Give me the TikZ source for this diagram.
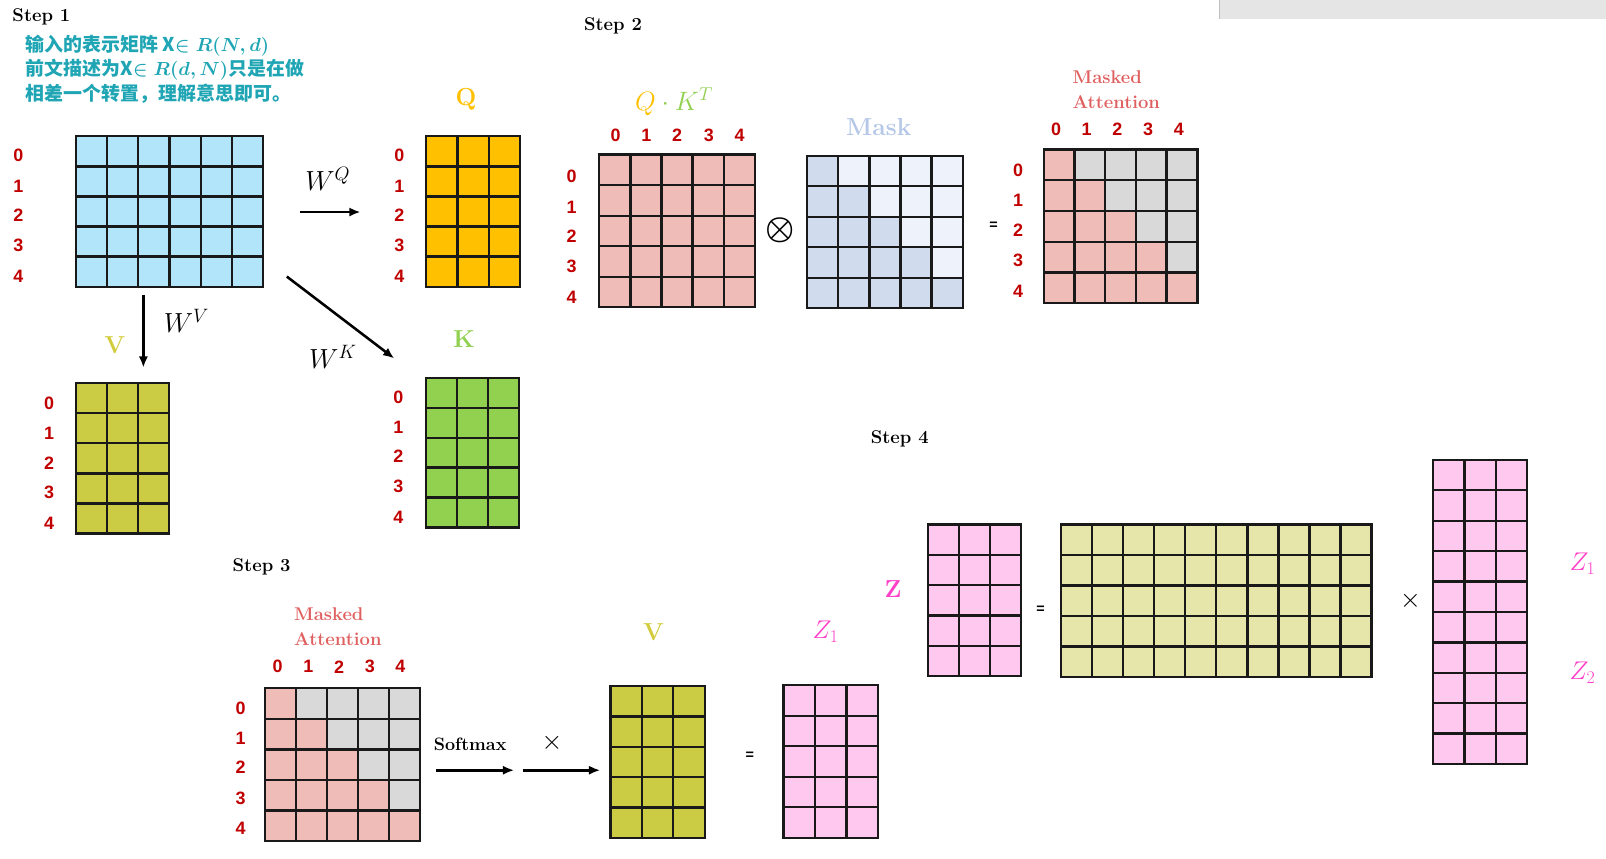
\RequirePackage{fix-cm}
\documentclass[tikz,border=0pt]{standalone}
\usepackage{amsmath,bm}
\usepackage{fontspec}
\newfontfamily\cjk{Noto Sans CJK SC}
\newfontfamily\lsans{Liberation Sans}
\usetikzlibrary{arrows.meta}
\definecolor{idxred}{RGB}{192,0,0}
\definecolor{cnteal}{RGB}{31,165,180}
\definecolor{xblue}{RGB}{179,229,250}
\definecolor{qorange}{RGB}{255,192,0}
\definecolor{kgreen}{RGB}{146,208,80}
\definecolor{volive}{RGB}{204,204,68}
\definecolor{vlab}{RGB}{210,204,60}
\definecolor{qkpink}{RGB}{240,188,184}
\definecolor{maskdark}{RGB}{208,220,238}
\definecolor{masklight}{RGB}{238,242,250}
\definecolor{maskedlab}{RGB}{224,96,96}
\definecolor{masklab}{RGB}{180,199,231}
\definecolor{cellgrey}{RGB}{217,217,217}
\definecolor{zpink}{RGB}{255,200,238}
\definecolor{zlab}{RGB}{255,64,200}
\definecolor{yel}{RGB}{230,230,170}
\definecolor{barGrey}{RGB}{229,229,229}
\definecolor{gridk}{RGB}{25,25,25}
\newcommand\gridlines[6]{%
  \pgfmathsetmacro\gdx{(#3-#1)/#5}%
  \pgfmathsetmacro\gdy{(#4-#2)/#6}%
  \pgfmathtruncatemacro\gcm{#5-1}%
  \pgfmathtruncatemacro\grm{#6-1}%
  \foreach \ii in {1,...,\gcm}{\draw[gl] ({#1+\ii*\gdx},#2) -- ({#1+\ii*\gdx},#4);}%
  \foreach \ii in {1,...,\grm}{\draw[gl] (#1,{#2+\ii*\gdy}) -- (#3,{#2+\ii*\gdy});}%
  \draw[gl] (#1,#2) rectangle (#3,#4);%
}
\newcommand\gridmat[7]{\fill[#7] (#1,#2) rectangle (#3,#4); \gridlines{#1}{#2}{#3}{#4}{#5}{#6}}
\newcommand\trimat[6]{%
  \pgfmathsetmacro\tdx{(#3-#1)/5}%
  \pgfmathsetmacro\tdy{(#4-#2)/5}%
  \foreach \rr in {0,...,4}{\foreach \cc in {0,...,4}{%
     \ifnum\cc>\rr\relax\def\tcol{#6}\else\def\tcol{#5}\fi
     \fill[\tcol] ({#1+\cc*\tdx},{#2+\rr*\tdy}) rectangle ++(\tdx,\tdy);}}%
  \gridlines{#1}{#2}{#3}{#4}{5}{5}}
\newcommand\rowlabels[3]{\foreach \yy [count=\k from 0] in {#3} \node[idx] (#1\k) at (#2,\yy) {\k};}
\newcommand\collabels[3]{\foreach \xx [count=\k from 0] in {#3} \node[idx] (#1\k) at (\xx,#2) {\k};}
\begin{document}
\begin{tikzpicture}[x=1pt,y=-1pt,
  gl/.style={line width=2.3pt, draw=gridk},
  idx/.style={font=\lsans\bfseries\fontsize{17.5}{19}\selectfont, text=idxred, inner sep=0pt},
  steplab/.style={font=\bfseries\fontsize{18}{20}\selectfont, anchor=west, inner sep=0pt},
  cn/.style={font=\cjk\bfseries\fontsize{18.5}{22}\selectfont, text=cnteal, anchor=west, inner sep=0pt},
  ttl/.style={font=\bfseries\fontsize{24}{26}\selectfont, inner sep=0pt},
  matt/.style={font=\bfseries\fontsize{18}{20}\selectfont, text=maskedlab, anchor=west, inner sep=0pt},
  wlab/.style={font=\fontsize{27}{30}\selectfont, inner sep=0pt},
  zl/.style={font=\fontsize{25}{28}\selectfont, text=zlab, inner sep=0pt},
  eq/.style={font=\lsans\bfseries\fontsize{14}{16}\selectfont, inner sep=0pt},
  op/.style={font=\fontsize{26}{28}\selectfont, inner sep=0pt},
  arr/.style={-{Latex[length=11pt,width=9pt]}, line width=2.5pt}]
\useasboundingbox (0,0) rectangle (1568,838);
% top right bar
\fill[barGrey] (1191,0) rectangle (1568,19);
\draw[line width=1pt, black!25] (1191,0) -- (1191,19);

% ---------- Step 1 ----------
\node[steplab] (s1) at (12,16) {Step 1};
\node[cn] (cn1) at (25,45) {输入的表示矩阵 \textbf{X}{\boldmath$\in R(N,d)$}};
\node[cn] (cn2) at (25,68) {前文描述为\textbf{X}{\boldmath$\in R(d,N)$}只是在做};
\node[cn] (cn3) at (25,92) {相差一个转置，理解意思即可。};

\gridmat{74}{133}{257}{280}{6}{5}{xblue}
\rowlabels{xr}{18}{152,182,210,240,270}

\node[ttl, text=qorange] (qlab) at (455,97) {Q};
\gridmat{416}{133}{508}{280}{3}{5}{qorange}
\rowlabels{qr}{390}{152,182,210,240,270}

\coordinate (wq1) at (293,207); \coordinate (wq2) at (352,207);
\draw[arr] (wq1) -- (wq2);
\node[wlab] (wq) at (320,175) {$W^Q$};

\coordinate (wk1) at (280,270); \coordinate (wk2) at (385,350);
\draw[arr] (wk1) -- (wk2);
\node[wlab] (wk) at (325,348) {$W^K$};

\coordinate (wv1) at (140,288); \coordinate (wv2) at (140,359);
\draw[arr] (wv1) -- (wv2);
\node[wlab] (wv) at (182,313) {$W^V$};

\node[ttl, text=vlab] (vlab1) at (112,337) {V};
\gridmat{74}{374}{165}{521}{3}{5}{volive}
\rowlabels{vr}{48}{394,423,452,481,511}

\node[ttl, text=kgreen] (klab) at (453,331) {K};
\gridmat{416}{369}{507}{515}{3}{5}{kgreen}
\rowlabels{kr}{389}{388,417,445,475,505}

% ---------- Step 2 ----------
\node[steplab] (s2) at (570,25) {Step 2};
\node[font=\fontsize{26}{30}\selectfont, inner sep=0pt] (qkt) at (658,99) {$\color{qorange}Q\color{kgreen}\cdot K^T$};
\collabels{qkc}{132}{601,631,661,692,722}
\gridmat{585}{151}{737}{300}{5}{5}{qkpink}
\rowlabels{qkr}{558}{172,202,231,260,290}

\node[font=\fontsize{32}{36}\selectfont, inner sep=0pt] (otim) at (762,225) {{\boldmath$\otimes$}};

\node[ttl, text=masklab] (masklab) at (858,124) {Mask};
\trimat{788}{152}{940}{301}{maskdark}{masklight}

\node[eq] (eq1) at (970,220) {=};

\node[matt] (ma1) at (1047,75) {Masked};
\node[matt] (ma2) at (1047,100) {Attention};
\collabels{mac}{126}{1031,1061,1091,1121,1151}
\trimat{1019}{146}{1169}{296}{qkpink}{cellgrey}
\rowlabels{mar}{994}{166,196,225,254,284}

% ---------- Step 3 ----------
\node[steplab] (s3) at (227,553) {Step 3};
\node[matt] (mb1) at (287,600) {Masked};
\node[matt] (mb2) at (287,624) {Attention};
\collabels{mbc}{651}{271,301,331,361,391}
\trimat{259}{672}{410}{821}{qkpink}{cellgrey}
\rowlabels{mbr}{235}{692,721,749,779,809}

\node[font=\bfseries\fontsize{17.5}{19}\selectfont, inner sep=0pt] (soft) at (459,727) {Softmax};
\coordinate (sa1) at (426,752); \coordinate (sa2) at (502,752);
\draw[arr] (sa1) -- (sa2);
\node[op] (tim1) at (539,725) {$\times$};
\coordinate (sb1) at (511,752); \coordinate (sb2) at (586,752);
\draw[arr] (sb1) -- (sb2);

\node[ttl, text=vlab] (vlab2) at (638,617) {V};
\gridmat{596}{670}{688}{818}{3}{5}{volive}
\node[eq] (eq2) at (732,738) {=};
\node[zl] (z1a) at (806,617) {$Z_1$};
\gridmat{765}{669}{857}{818}{3}{5}{zpink}

% ---------- Step 4 ----------
\node[steplab] (s4) at (850,428) {Step 4};
\node[ttl, text=zlab] (zlab) at (872,575) {Z};
\gridmat{906}{512}{997}{660}{3}{5}{zpink}
\node[eq] (eq3) at (1016,595) {=};
\gridmat{1036}{512}{1339}{661}{10}{5}{yel}
\node[op] (tim2) at (1377,587) {$\times$};
\gridmat{1399}{449}{1491}{746}{3}{10}{zpink}
\node[zl] (z1b) at (1545,550) {$Z_1$};
\node[zl] (z2b) at (1545,657) {$Z_2$};
\end{tikzpicture}
\end{document}
